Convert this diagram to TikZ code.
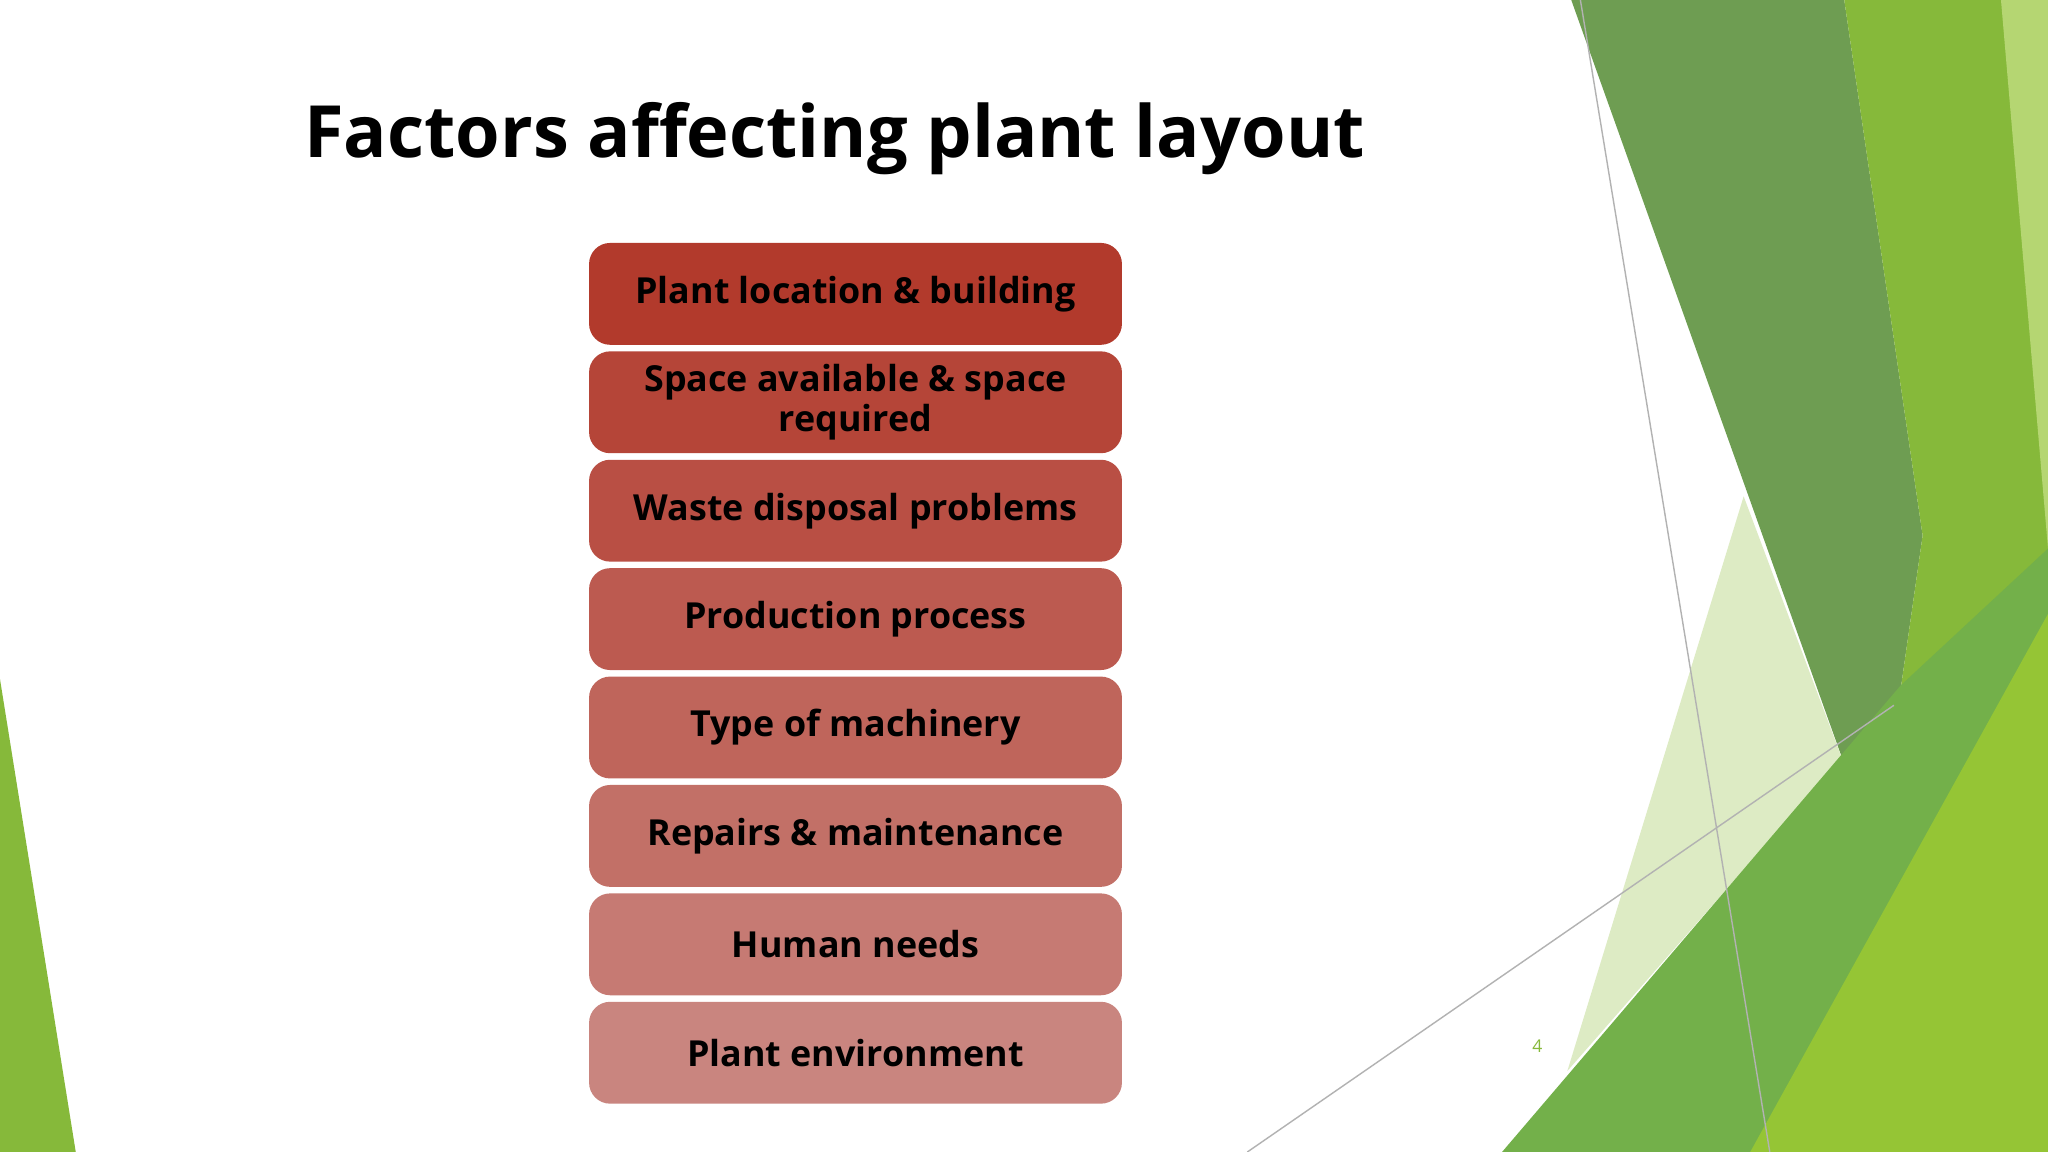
\documentclass[tikz,border=0pt]{standalone}
\usepackage{fontspec}
\setmainfont{Open Sans}
\usetikzlibrary{positioning}
\definecolor{topred}{HTML}{B23A2C}
\definecolor{botred}{HTML}{C9857F}
\definecolor{olivegreen}{HTML}{6E9D52}
\definecolor{leafgreen}{HTML}{86B93A}
\definecolor{palegreen}{HTML}{DDEBC4}
\definecolor{midgreen}{HTML}{73B04A}
\definecolor{limegreen}{HTML}{95C535}
\newlength{\unitpx}\setlength{\unitpx}{0.013061cm}
\tikzset{
  factorbox/.style={rounded corners=6pt, minimum width=408\unitpx, minimum height=78\unitpx,
    align=center, font=\fontsize{10.2}{11.5}\selectfont\bfseries, inner sep=0pt}
}
\begin{document}
\begin{tikzpicture}[x=0.013061cm, y=-0.013061cm]
\useasboundingbox (0,0) rectangle (1568,882);
\fill[white] (0,0) rectangle (1568,882);

% green decoration on the right
\fill[olivegreen] (1203,0) -- (1412,0) -- (1472,410) -- (1437,655) -- cycle;
\fill[leafgreen] (1412,0) -- (1568,0) -- (1568,882) -- (1410,882) -- (1437,655) -- (1472,410) -- cycle;
\fill[limegreen!70!white] (1532,0) -- (1568,0) -- (1568,420) -- cycle;
\fill[palegreen] (1200,820) -- (1335,380) -- (1410,580) -- cycle;
\fill[midgreen] (1150,882) -- (1455,525) -- (1568,420) -- (1568,882) -- cycle;
\fill[limegreen] (1340,882) -- (1568,470) -- (1568,882) -- cycle;
\fill[leafgreen] (0,520) -- (58,882) -- (0,882) -- cycle;
\draw[gray!60, line width=0.4pt] (1210,0) -- (1355,882);
\draw[gray!60, line width=0.4pt] (955,882) -- (1450,540);
\node[text=leafgreen, font=\tiny] (pagenum) at (1177,801) {4};

% title
\node[font=\fontsize{20.5}{24}\selectfont\bfseries] (title) at (639,106) {Factors affecting plant layout};

% factor boxes
\foreach \i/\txt in {0/Plant location \& building,
    1/{Space available \& space\\required},
    2/Waste disposal problems,
    3/Production process,
    4/Type of machinery,
    5/Repairs \& maintenance,
    6/Human needs,
    7/Plant environment} {
  \pgfmathsetmacro{\shade}{100-\i*100/7}
  \node[factorbox, fill=topred!\shade!botred] (box\i) at (655,{225+\i*83}) {\txt};
}
\end{tikzpicture}
\end{document}
